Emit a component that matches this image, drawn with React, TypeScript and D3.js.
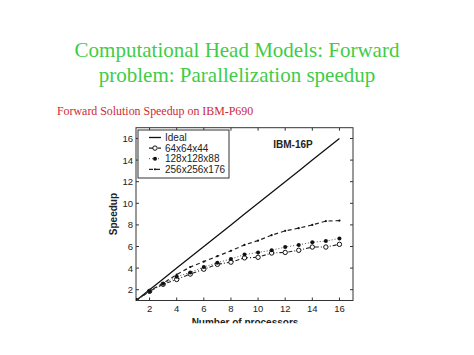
import React from "react";
import * as d3 from "d3";

const processors = [1, 2, 3, 4, 5, 6, 7, 8, 9, 10, 11, 12, 13, 14, 15, 16];
const ideal = [1, 2, 3, 4, 5, 6, 7, 8, 9, 10, 11, 12, 13, 14, 15, 16];
const s64 = [1, 1.85, 2.5, 2.95, 3.45, 3.9, 4.35, 4.55, 4.95, 5.0, 5.4, 5.45, 5.65, 5.95, 5.95, 6.2];
const s128 = [1, 1.85, 2.55, 3.2, 3.6, 4.1, 4.5, 4.85, 5.25, 5.45, 5.65, 5.95, 6.15, 6.4, 6.5, 6.75];
const s256 = [1, 1.9, 2.6, 3.4, 4.1, 4.6, 5.1, 5.6, 6.15, 6.55, 7.05, 7.45, 7.7, 8.0, 8.35, 8.4];
const tickValues = [2, 4, 6, 8, 10, 12, 14, 16];
const legendLabels = ["Ideal", "64x64x44", "128x128x88", "256x256x176"];

const W = 474;
const H = 355;
const L = 136, R = 353, T = 127.7, B = 300.5;

export default function App() {
  const x = d3.scaleLinear().domain([1, 17]).range([L, R]);
  const y = d3.scaleLinear().domain([1, 17]).range([B, T]);
  const line = (vals: number[]) =>
    d3.line<number>().x((_, i) => x(processors[i])).y((v) => y(v))(vals) || "";

  const series = [
    { vals: ideal, dash: "", marker: "none", width: 1.3, color: "#111" },
    { vals: s64, dash: "4,2,1,2", marker: "open", width: 1.1, color: "#222" },
    { vals: s128, dash: "1,2", marker: "dot", width: 1.0, color: "#555" },
    { vals: s256, dash: "4,3", marker: "small", width: 1.2, color: "#222" },
  ];

  const axisFont = "'Liberation Sans', Arial, sans-serif";
  const serif = "'Liberation Serif', 'Times New Roman', serif";

  const renderMarker = (m: string, cx: number, cy: number, key: string) => {
    if (m === "open") return <circle key={key} cx={cx} cy={cy} r={2.2} fill="#fff" stroke="#111" strokeWidth={1} />;
    if (m === "dot") return <circle key={key} cx={cx} cy={cy} r={2} fill="#111" />;
    if (m === "small") return <circle key={key} cx={cx} cy={cy} r={1.1} fill="#111" />;
    return null;
  };

  return (
    <svg width={W} height={H} style={{ position: "absolute", left: 0, top: 0, background: "#fff" }}>
      <defs>
        <clipPath id="bottomClip">
          <rect x={0} y={0} width={W} height={323.3} />
        </clipPath>
        <clipPath id="plotClip">
          <rect x={L} y={T} width={R - L} height={B - T} />
        </clipPath>
      </defs>
      <rect width={W} height={H} fill="#fff" />
      <text x={237} y={57} textAnchor="middle" fontFamily={serif} fontSize={21} fill="#3fcc47">
        Computational Head Models: Forward
      </text>
      <text x={237} y={82} textAnchor="middle" fontFamily={serif} fontSize={21} fill="#3fcc47">
        problem: Parallelization speedup
      </text>
      <text x={57} y={115} fontFamily={serif} fontSize={11.9} fill="#cc2a36">
        Forward Solution Speedup on IBM-P690
      </text>

      {/* axes box */}
      <rect x={L} y={T} width={R - L} height={B - T} fill="none" stroke="#333" strokeWidth={1} />
      {tickValues.map((t) => (
        <g key={"xt" + t}>
          <line x1={x(t)} x2={x(t)} y1={B} y2={B - 3} stroke="#333" />
          <line x1={x(t)} x2={x(t)} y1={T} y2={T + 3} stroke="#333" />
          <text x={x(t)} y={312} textAnchor="middle" fontFamily={axisFont} fontSize={9.5} fill="#222">
            {t}
          </text>
        </g>
      ))}
      {tickValues.map((t) => (
        <g key={"yt" + t}>
          <line x1={L} x2={L + 3} y1={y(t)} y2={y(t)} stroke="#333" />
          <line x1={R} x2={R - 3} y1={y(t)} y2={y(t)} stroke="#333" />
          <text x={133} y={y(t) + 3.4} textAnchor="end" fontFamily={axisFont} fontSize={9.5} fill="#222">
            {t}
          </text>
        </g>
      ))}

      <g clipPath="url(#plotClip)">
        {series.map((s, si) => (
          <g key={"s" + si}>
            <path d={line(s.vals)} fill="none" stroke={s.color} strokeWidth={s.width} strokeDasharray={s.dash} />
            {s.vals.map((v, i) => renderMarker(s.marker, x(processors[i]), y(v), `m${si}-${i}`))}
          </g>
        ))}
      </g>

      {/* legend */}
      <rect x={138} y={130} width={91} height={48} fill="#fff" stroke="#333" strokeWidth={1} />
      {series.map((s, i) => {
        const ly = 137.5 + i * 10.6;
        return (
          <g key={"lg" + i}>
            <line x1={149} x2={161} y1={ly} y2={ly} stroke={s.color} strokeWidth={s.width} strokeDasharray={s.dash} />
            {renderMarker(s.marker, 155, ly, "lm" + i)}
            <text x={165} y={ly + 3.5} fontFamily={axisFont} fontSize={10} fill="#222">
              {legendLabels[i]}
            </text>
          </g>
        );
      })}

      <text x={293} y={148} textAnchor="middle" fontFamily={axisFont} fontSize={10} fontWeight="bold" fill="#222">
        IBM-16P
      </text>

      <text
        transform={`translate(117,${(T + B) / 2}) rotate(-90)`}
        textAnchor="middle"
        fontFamily={axisFont}
        fontSize={10}
        fontWeight="bold"
        fill="#222"
      >
        Speedup
      </text>
      <g clipPath="url(#bottomClip)">
        <text x={245} y={325.5} textAnchor="middle" fontFamily={axisFont} fontSize={10} fontWeight="bold" fill="#222">
          Number of processors
        </text>
      </g>
    </svg>
  );
}
